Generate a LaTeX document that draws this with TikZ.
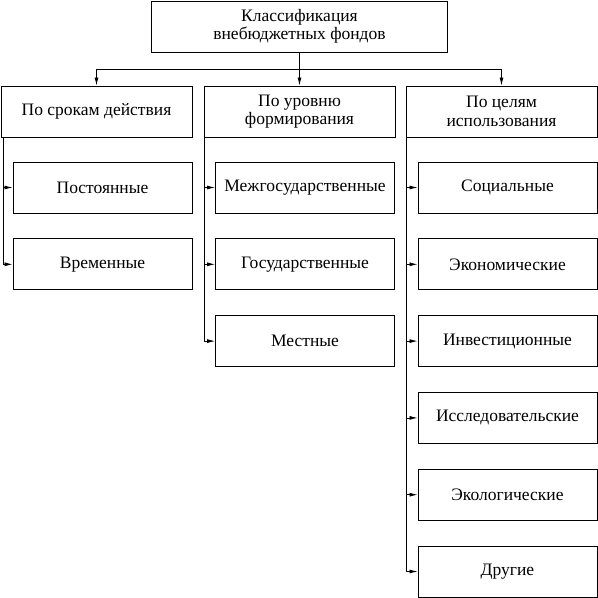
\documentclass[tikz,border=0pt]{standalone}
\usepackage{fontspec}
\setmainfont{Liberation Serif}
\usetikzlibrary{arrows.meta,positioning}

\begin{document}
\begin{tikzpicture}[x=1pt,y=1pt,
    box/.style={draw,line width=0.9pt,minimum height=51pt,inner sep=0pt,
      align=center,font=\fontsize{17.5}{18.5}\selectfont},
    cat/.style={box,minimum width=191pt},
    sub/.style={box,minimum width=179pt},
    arr/.style={-{Latex[length=8pt,width=4pt]},line width=0.8pt}]
    \useasboundingbox (0,0) rectangle (598,-598);

    \coordinate (br) at (299.5,-69);

    \node (top) [box,minimum width=296pt] at (299.5,-26.5) {Классификация\\внебюджетных фондов};

    \node (srok) [cat] at (96.5,-111.5) {По срокам действия};
    \node (urov) [cat] at (299.5,-111.5) {По уровню\\формирования};
    \node (cel) [cat] at (501.5,-111.5) {По целям\\использования};

    \draw[line width=0.8pt] (top.south) -- (br);
    \draw[arr] (br) -| (srok.north);
    \draw[arr] (br) -- (urov.north);
    \draw[arr] (br) -| (cel.north);

    \foreach \t [count=\i] in {Постоянные,Временные} {
      \node (s\i) [sub] at (102.5,{-187.5-76.8*(\i-1)}) {\t};
      \draw[arr] ([xshift=3pt]srok.south west) |- (s\i.west);
    }
    \foreach \t [count=\i] in {Межгосударственные,Государственные,Местные} {
      \node (u\i) [sub] at (305,{-187.5-76.8*(\i-1)}) {\t};
      \draw[arr] ([xshift=1pt]urov.south west) |- (u\i.west);
    }
    \foreach \t [count=\i] in {Социальные,Экономические,Инвестиционные,
        Исследовательские,Экологические,Другие} {
      \node (c\i) [sub] at (507.5,{-187.5-76.8*(\i-1)}) {\t};
      \draw[arr] ([xshift=1pt]cel.south west) |- (c\i.west);
    }
  \end{tikzpicture}
\end{document}
